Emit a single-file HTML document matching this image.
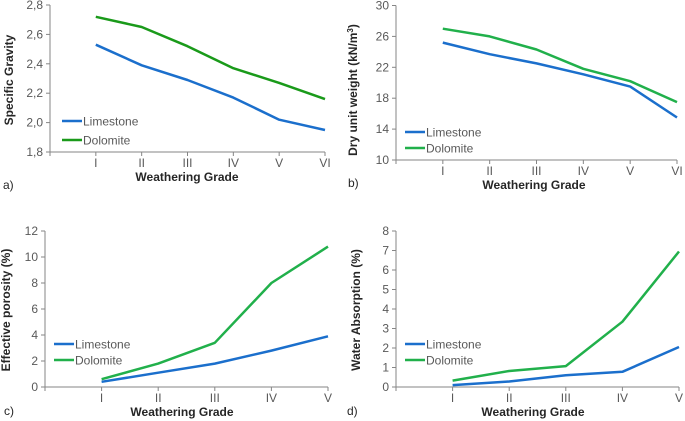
<!DOCTYPE html>
<html><head><meta charset="utf-8"><style>
html,body{margin:0;padding:0;background:#fff;width:685px;height:421px;overflow:hidden}
svg{display:block;font-family:"Liberation Sans",Arial,sans-serif}
</style></head><body>
<svg id="fig" width="685" height="421" viewBox="0 0 685 421"></svg>
<script>
// ---- data ----
const gradesA = ["I","II","III","IV","V","VI"];
const gradesC = ["I","II","III","IV","V"];
const sgLimestone = [2.53,2.39,2.29,2.17,2.02,1.95];
const sgDolomite  = [2.72,2.65,2.52,2.37,2.27,2.16];
const sgTicks = ["1,8","2,0","2,2","2,4","2,6","2,8"];
const duwLimestone = [25.2,23.7,22.5,21.1,19.5,15.5];
const duwDolomite  = [27.0,26.0,24.3,21.8,20.2,17.5];
const duwTicks = ["10","14","18","22","26","30"];
const porLimestone = [0.4,1.1,1.8,2.8,3.9];
const porDolomite  = [0.6,1.8,3.4,8.0,10.8];
const porTicks = ["0","2","4","6","8","10","12"];
const waLimestone = [0.1,0.28,0.6,0.78,2.05];
const waDolomite  = [0.33,0.82,1.07,3.35,6.95];
const waTicks = ["0","1","2","3","4","5","6","7","8"];

const NS="http://www.w3.org/2000/svg";
const svg=document.getElementById('fig');
function el(tag,attrs,parent,text){const e=document.createElementNS(NS,tag);for(const k in attrs)e.setAttribute(k,attrs[k]);if(text!==undefined)e.textContent=text;(parent||svg).appendChild(e);return e;}

function chart(cfg){
  const g=el('g',{},svg);
  
  
  const n=cfg.cats.length;
  const step=(cfg.x1-cfg.x0)/n;
  const xs=i=>cfg.x0+(i+1)*step;
  const ymin=parseFloat(cfg.ticks[0].replace(',','.')), ymax=parseFloat(cfg.ticks[cfg.ticks.length-1].replace(',','.'));
  const ys=v=>cfg.yb-(v-ymin)/(ymax-ymin)*(cfg.yb-cfg.yt);
  // axes
  const ya=el('line',{x1:cfg.x0,y1:cfg.yt,x2:cfg.x0,y2:cfg.yb,stroke:'#868686','stroke-width':1},g);
  
  const xa=el('line',{x1:cfg.x0,y1:cfg.yb,x2:cfg.x1,y2:cfg.yb,stroke:'#868686','stroke-width':1},g);
  
  cfg.ticks.forEach(t=>{
    const v=parseFloat(t.replace(',','.'));const y=ys(v);
    el('line',{x1:cfg.x0-4,y1:y,x2:cfg.x0,y2:y,stroke:'#868686'},g);
    const tx=el('text',{x:cfg.x0-7,y:y+4,'text-anchor':'end','font-size':12,fill:'#595959'},g,t);
    
  });
  for(let i=0;i<=n;i++){const x=cfg.x0+i*step;el('line',{x1:x,y1:cfg.yb,x2:x,y2:cfg.yb+4,stroke:'#868686'},g);}
  cfg.cats.forEach((c,i)=>{
    const tx=el('text',{x:xs(i),y:cfg.yb+15,'text-anchor':'middle','font-size':12,fill:'#595959'},g,c);
    
  });
  const series=[[cfg.lime,'#1b6fcc','Limestone'],[cfg.dolo,cfg.green,'Dolomite']];
  series.forEach((s,k)=>{
    const pts=s[0].map((v,i)=>xs(i).toFixed(1)+','+ys(v).toFixed(1)).join(' ');
    const pl=el('polyline',{points:pts,fill:'none',stroke:s[1],'stroke-width':2.5,'stroke-linejoin':'round'},g);
    
    const ly=cfg.legY+k*cfg.legDy;
    const lg=el('g',{},g);
    
    el('line',{x1:cfg.legX,y1:ly,x2:cfg.legX+20,y2:ly,stroke:s[1],'stroke-width':2.5},lg);
    el('text',{x:cfg.legX+21,y:ly+4.5,'font-size':12,fill:'#595959'},lg,s[2]);
  });
  const xt=el('text',{x:cfg.titleX,y:cfg.yb+29,'text-anchor':'middle','font-size':12,'font-weight':'bold',fill:'#262626'},g,'Weathering Grade');
  
  const yt=el('text',{x:0,y:0,transform:`translate(${cfg.ylx},${cfg.yly}) rotate(-90)`,'text-anchor':'middle','font-size':12,'font-weight':'bold',fill:'#262626'},g);
  yt.innerHTML=cfg.ytitle;
  
  const pl=el('text',{x:cfg.px,y:cfg.py,'font-size':12,fill:'#262626'},g,cfg.panel);
  
}
chart({name:'chart-specific-gravity',cats:gradesA,ticks:sgTicks,lime:sgLimestone,dolo:sgDolomite,green:'#1a9a1a',
  x0:50,x1:325,yt:5,yb:152,legX:62,legY:121,legDy:19,titleX:187,ylx:13,yly:80,ytitle:'Specific Gravity',panel:'a)',px:3,py:189});
chart({name:'chart-dry-unit-weight',cats:gradesA,ticks:duwTicks,lime:duwLimestone,dolo:duwDolomite,green:'#21b04b',
  x0:396,x1:677,yt:5.5,yb:160,legX:405,legY:132,legDy:16,titleX:534,ylx:357,yly:90,ytitle:'Dry unit weight (kN/m<tspan font-size="8" dy="-4">3</tspan><tspan dy="4">)</tspan>',panel:'b)',px:348,py:187});
chart({name:'chart-effective-porosity',cats:gradesC,ticks:porTicks,lime:porLimestone,dolo:porDolomite,green:'#21b04b',
  x0:45,x1:328,yt:231,yb:387,legX:54,legY:344,legDy:16,titleX:182,ylx:10,yly:310,ytitle:'Effective porosity (%)',panel:'c)',px:4,py:415});
chart({name:'chart-water-absorption',cats:gradesC,ticks:waTicks,lime:waLimestone,dolo:waDolomite,green:'#21b04b',
  x0:396,x1:679,yt:231,yb:387,legX:405,legY:344,legDy:16,titleX:533,ylx:360,yly:310,ytitle:'Water Absorption (%)',panel:'d)',px:347,py:415});
</script>
</body></html>
